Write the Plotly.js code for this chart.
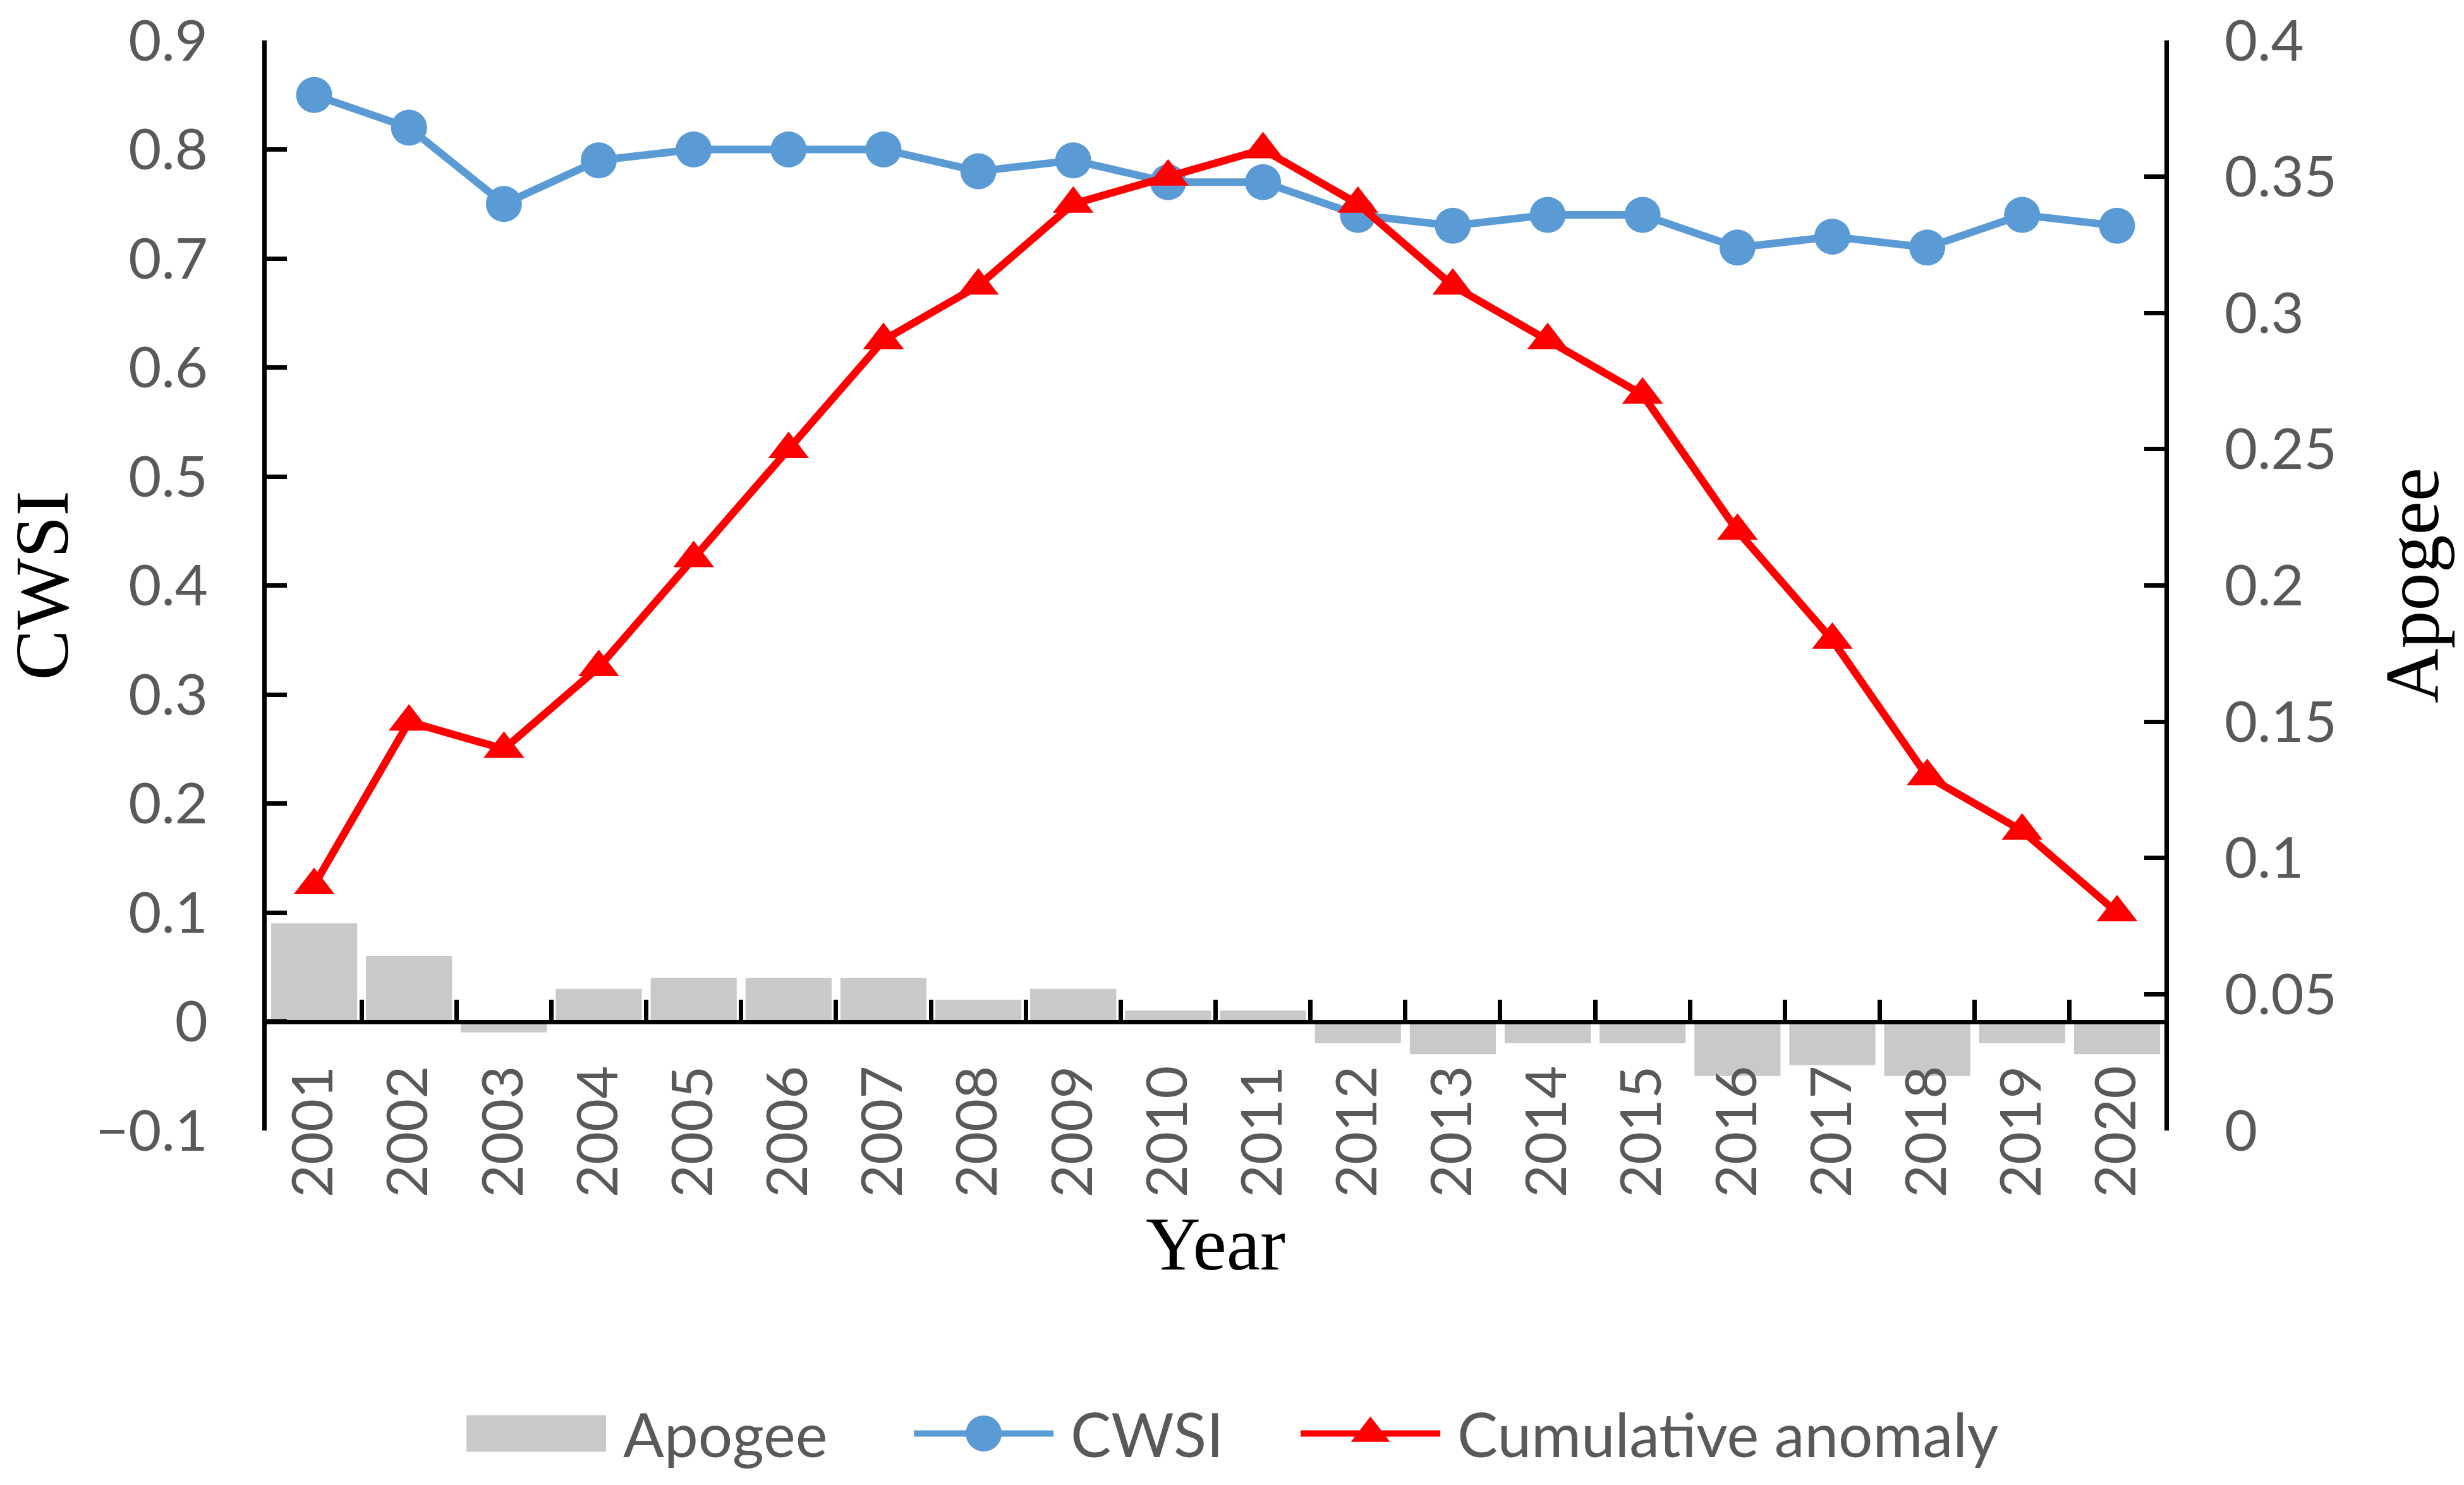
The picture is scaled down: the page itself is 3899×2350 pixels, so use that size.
<!DOCTYPE html>
<html>
<head>
<meta charset="utf-8">
<script src="https://cdn.plot.ly/plotly-3.0.1.min.js"></script>
<style>
  html, body { margin: 0; padding: 0; background: #ffffff; }
  #chart { width: 3899px; height: 2350px; }
</style>
</head>
<body>
<div id="chart"></div>
<script>
// ---------------- data ----------------
var years = ['2001','2002','2003','2004','2005','2006','2007','2008','2009','2010',
             '2011','2012','2013','2014','2015','2016','2017','2018','2019','2020'];
var apogee = [0.09, 0.06, -0.01, 0.03, 0.04, 0.04, 0.04, 0.02, 0.03, 0.01,
              0.01, -0.02, -0.03, -0.02, -0.02, -0.05, -0.04, -0.05, -0.02, -0.03];
var cwsi = [0.85, 0.82, 0.75, 0.79, 0.80, 0.80, 0.80, 0.78, 0.79, 0.77,
            0.77, 0.74, 0.73, 0.74, 0.74, 0.71, 0.72, 0.71, 0.74, 0.73];
var cumulativeAnomaly = [0.09, 0.15, 0.14, 0.17, 0.21, 0.25, 0.29, 0.31, 0.34, 0.35,
                         0.36, 0.34, 0.31, 0.29, 0.27, 0.22, 0.18, 0.13, 0.11, 0.08];
var rightTickVals = [0, 0.05, 0.1, 0.15, 0.2, 0.25, 0.3, 0.35, 0.4];
var rightTickText = ['0', '0.05', '0.1', '0.15', '0.2', '0.25', '0.3', '0.35', '0.4'];
var seriesNames = ['Apogee', 'CWSI', 'Cumulative anomaly'];

// ---------------- style ----------------
var tickFont = { family: 'Lato, "Open Sans", sans-serif', size: 90, color: '#595959' };
var legendFont = { family: 'Lato, "Open Sans", sans-serif', size: 96, color: '#595959' };
var titleFont = { family: '"Liberation Serif", "Times New Roman", serif', size: 120, color: '#000000' };

var data = [
  { type: 'bar', name: seriesNames[0], x: years, y: apogee,
    marker: { color: '#C9C9C9', line: { width: 0 } }, yaxis: 'y', xaxis: 'x' },
  { type: 'scatter', mode: 'lines+markers', name: seriesNames[1], x: years, y: cwsi,
    line: { color: '#5B9BD5', width: 12 },
    marker: { color: '#5B9BD5', size: 57, symbol: 'circle' },
    yaxis: 'y', xaxis: 'x', cliponaxis: false },
  { type: 'scatter', mode: 'lines+markers', name: seriesNames[2], x: years, y: cumulativeAnomaly,
    line: { color: '#FF0000', width: 12 },
    marker: { color: '#FF0000', size: 56, symbol: 'triangle-up' },
    yaxis: 'y2', xaxis: 'x', cliponaxis: false }
];

var layout = {
  width: 3899, height: 2350,
  margin: { l: 422, r: 474, t: 64, b: 552, pad: 0 },
  paper_bgcolor: '#ffffff', plot_bgcolor: '#ffffff',
  showlegend: true,
  bargap: 0.093,
  xaxis: {
    type: 'category', range: [-0.5, years.length - 0.5], autorange: false,
    anchor: 'free', position: 0.1,
    showline: true, linecolor: '#000000', linewidth: 7,
    ticks: 'inside', tickson: 'boundaries', ticklen: 32, tickwidth: 7, tickcolor: '#000000',
    tickangle: -90, tickfont: tickFont, ticklabelstandoff: 30,
    showgrid: false, zeroline: false,
    title: { text: 'Year', font: titleFont, standoff: 30 },
    automargin: false
  },
  yaxis: {
    range: [-0.1, 0.9], autorange: false, dtick: 0.1, tick0: 0,
    showline: true, linecolor: '#000000', linewidth: 7,
    ticks: 'inside', ticklen: 32, tickwidth: 7, tickcolor: '#000000',
    tickfont: tickFont, ticklabelstandoff: 68,
    showgrid: false, zeroline: false,
    title: { text: 'CWSI', font: titleFont, standoff: 80 },
    automargin: false
  },
  yaxis2: {
    overlaying: 'y', side: 'right', anchor: 'x',
    range: [0, 0.4], autorange: false, tickvals: rightTickVals, ticktext: rightTickText,
    showline: true, linecolor: '#000000', linewidth: 7,
    ticks: 'inside', ticklen: 32, tickwidth: 7, tickcolor: '#000000',
    tickfont: tickFont, ticklabelstandoff: 70,
    showgrid: false, zeroline: false,
    title: { text: 'Apogee', font: titleFont, standoff: 80 },
    automargin: false
  },
  legend: {
    orientation: 'h', x: 0.1036, xanchor: 'left', y: -0.278, yanchor: 'middle',
    font: legendFont, bgcolor: 'rgba(0,0,0,0)', traceorder: 'normal'
  }
};

// Enlarge legend symbols to match the wide Excel-style legend keys
function enlargeLegend(gd) {
  var legend = gd.querySelector('g.legend');
  if (!legend) return;
  legend.querySelectorAll('[clip-path]').forEach(function (el) { el.removeAttribute('clip-path'); });
  var items = legend.querySelectorAll('g.traces');
  var offsets = [0, 708, 1320];
  var symW = 221;
  var baseX = null;
  items.forEach(function (g, i) {
    var tr = g.getAttribute('transform') || '';
    var m = tr.match(/translate\(\s*([-\d.]+)[ ,]+([-\d.]+)\s*\)/);
    var x0 = m ? parseFloat(m[1]) : 0, y0 = m ? parseFloat(m[2]) : 0;
    if (baseX === null) baseX = x0;
    g.setAttribute('transform', 'translate(' + (baseX + offsets[i]) + ',' + y0 + ')');
    g.querySelectorAll('g.legendlines path').forEach(function (p) {
      p.setAttribute('d', 'M5,0h' + symW);
    });
    g.querySelectorAll('g.legendpoints path').forEach(function (p) {
      if (p.closest('g.legendlines')) return;
      if (i === 0) {
        p.setAttribute('d', 'M0,-29h' + symW + 'v58h-' + symW + 'Z');
        p.setAttribute('transform', 'translate(5,0)');
      } else {
        var bb = p.getBBox();
        var target = (i === 1) ? 57 : 62;
        var k = bb.width > 0 ? target / bb.width : 1;
        p.setAttribute('transform', 'translate(' + (5 + symW / 2) + ',0) scale(' + k + ')');
      }
    });
    var t = g.querySelector('text.legendtext');
    if (t) {
      t.setAttribute('x', 5 + symW + 27);
      t.querySelectorAll('tspan[x]').forEach(function (s) { s.setAttribute('x', 5 + symW + 27); });
    }
  });
}

Plotly.newPlot('chart', data, layout, { staticPlot: true, displayModeBar: false })
  .then(function (gd) { enlargeLegend(gd); });
</script>
</body>
</html>
